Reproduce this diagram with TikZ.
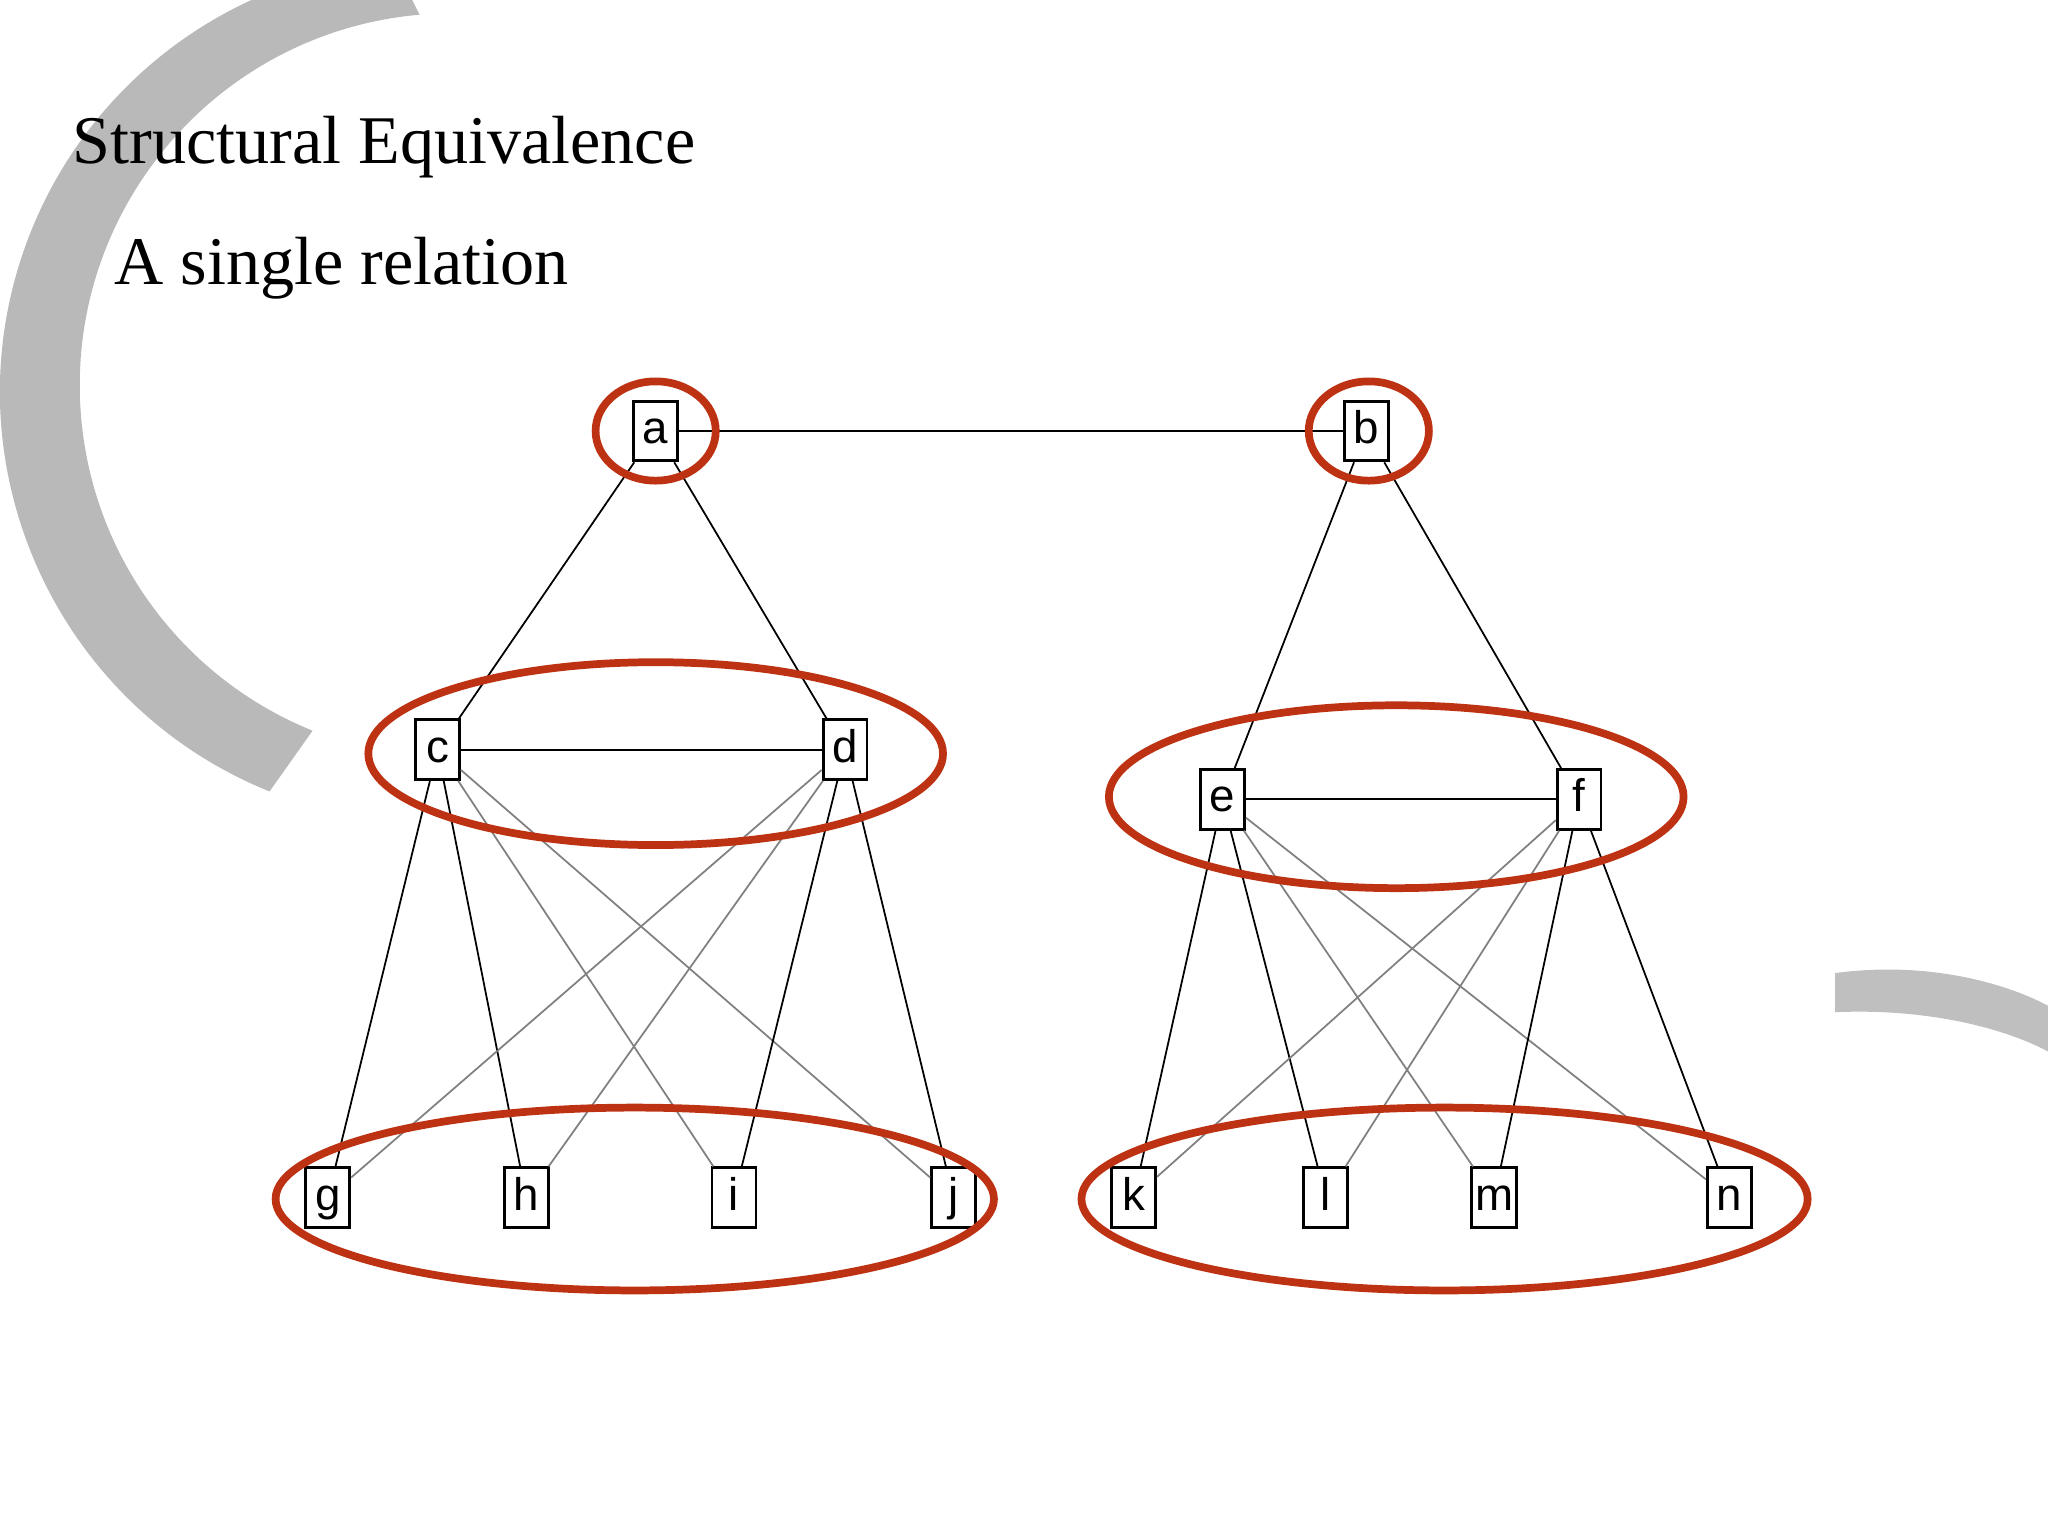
\documentclass[tikz,border=0pt]{standalone}
\usepackage{fontspec}
\setmainfont{Liberation Serif}
\newfontfamily\nodefont{Liberation Sans}
\begin{document}
\begin{tikzpicture}[x=0.013061cm,y=-0.013061cm,
  v/.style={draw,fill=white,line width=0.8pt,font=\nodefont\fontsize{13}{13}\selectfont,minimum width=12.5pt,minimum height=17pt,inner sep=1pt,text height=9.5pt,text depth=2.5pt},
  bl/.style={line width=0.5pt,black},
  gr/.style={line width=0.5pt,gray},
  grp/.style={draw={rgb,255:red,190;green,50;blue,20},line width=2.2pt}]
\useasboundingbox (0,0) rectangle (1568,1176);
% background swooshes
\fill[gray!55] (330,300) ++(112:330) arc[start angle=112,end angle=265,radius=330]
  -- ++(20,40) arc[start angle=265,end angle=112,radius=285] -- cycle;
\fill[gray!50] (1405,745) .. controls (1480,735) and (1540,755) .. (1568,770) -- (1568,805) .. controls (1530,785) and (1470,772) .. (1405,775) -- cycle;
\node[anchor=west,font=\fontsize{19.4}{20}\selectfont] (t1) at (46,113) {Structural Equivalence};
\node[anchor=west,font=\fontsize{19.4}{20}\selectfont] (t2) at (78,205) {A single relation};
% nodes
\node[v] (a) at (502,330) {a};
\node[v] (b) at (1046,330) {b};
\node[v] (c) at (335,574) {c};
\node[v] (d) at (647,574) {d};
\node[v] (e) at (936,612) {e};
\node[v] (f) at (1209,612) {f};
\node[v] (g) at (251,917) {g};
\node[v] (h) at (403,917) {h};
\node[v] (i) at (562,917) {i};
\node[v] (j) at (730,917) {j};
\node[v] (k) at (868,917) {k};
\node[v] (l) at (1015,917) {l};
\node[v] (m) at (1144,917) {m};
\node[v] (n) at (1324,917) {n};
% edges
\draw[bl] (a) -- (b); \draw[bl] (a) -- (c); \draw[bl] (a) -- (d);
\draw[bl] (b) -- (e); \draw[bl] (b) -- (f);
\draw[bl] (c) -- (d); \draw[bl] (e) -- (f);
\draw[bl] (c) -- (g); \draw[bl] (c) -- (h); \draw[gr] (c) -- (i); \draw[gr] (c) -- (j);
\draw[gr] (d) -- (g); \draw[gr] (d) -- (h); \draw[bl] (d) -- (i); \draw[bl] (d) -- (j);
\draw[bl] (e) -- (k); \draw[bl] (e) -- (l); \draw[gr] (e) -- (m); \draw[gr] (e) -- (n);
\draw[gr] (f) -- (k); \draw[gr] (f) -- (l); \draw[bl] (f) -- (m); \draw[bl] (f) -- (n);
% groups
\draw[grp] (502,330) ellipse[x radius=46,y radius=38];
\draw[grp] (1048,330) ellipse[x radius=46,y radius=38];
\draw[grp] (502,577) ellipse[x radius=220,y radius=70];
\draw[grp] (1069,610) ellipse[x radius=220,y radius=70];
\draw[grp] (486,918) ellipse[x radius=275,y radius=70];
\draw[grp] (1106,918) ellipse[x radius=278,y radius=70];
\end{tikzpicture}
\end{document}
